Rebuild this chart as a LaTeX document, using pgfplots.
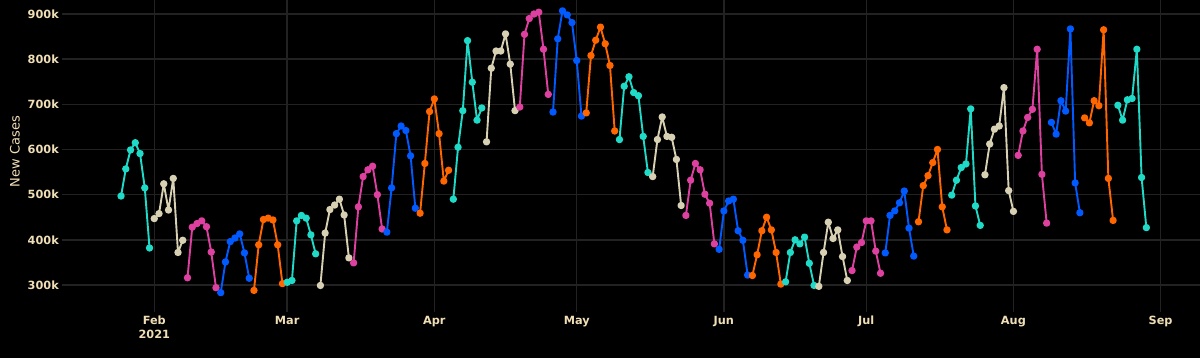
\documentclass[border=0pt]{standalone}
\usepackage{fontspec}
\setmainfont{DejaVu Sans}
\usepackage{pgfplots}
\pgfplotsset{compat=1.18}
\definecolor{cT}{RGB}{32,218,200}
\definecolor{cB}{RGB}{216,208,178}
\definecolor{cM}{RGB}{222,64,160}
\definecolor{cU}{RGB}{0,90,255}
\definecolor{cO}{RGB}{255,102,0}
\definecolor{tickc}{RGB}{240,222,182}
\definecolor{gridc}{RGB}{34,34,34}
\begin{document}
\begin{tikzpicture}
\useasboundingbox (-62pt,-46pt) rectangle (1138pt,312pt);
\fill[black] (-62pt,-46pt) rectangle (1138pt,312pt);
\begin{axis}[
  scale only axis, width=1138pt, height=312pt,
  xmin=-19.44, xmax=220.3, ymin=240.2, ymax=931,
  axis line style={draw=none},
  major tick length=0pt,
  grid=major, major grid style={color=gridc, line width=1.5pt},
  xtick={0,28,59,89,120,150,181,212},
  xticklabels={{Feb\\2021},Mar,Apr,May,Jun,Jul,Aug,Sep},
  ytick={300,400,500,600,700,800,900},
  yticklabels={300k,400k,500k,600k,700k,800k,900k},
  xticklabel style={font=\bfseries\fontsize{11.3}{14}\selectfont, text=tickc, align=center, inner sep=0pt, yshift=-4pt},
  yticklabel style={font=\bfseries\fontsize{11.3}{14}\selectfont, text=tickc, inner sep=0pt, xshift=-3pt},
  ylabel={New Cases},
  ylabel style={at={(axis description cs:-0.0413,0.514)}, anchor=center, font=\fontsize{13}{15}\selectfont, text=tickc},
  every axis plot/.append style={line width=1.9pt, line join=round, mark=*, mark size=2.7pt},
]
\addplot[cT] coordinates {(-7,497)(-6,557)(-5,599)(-4,615)(-3,591)(-2,515)(-1,382)};
\addplot[cB] coordinates {(0,447)(1,458)(2,524)(3,466)(4,536)(5,372)(6,399)};
\addplot[cM] coordinates {(7,316)(8,428)(9,436)(10,442)(11,429)(12,373)(13,294)};
\addplot[cU] coordinates {(14,283)(15,351)(16,396)(17,404)(18,413)(19,371)(20,315)};
\addplot[cO] coordinates {(21,288)(22,389)(23,445)(24,448)(25,444)(26,389)(27,303)};
\addplot[cT] coordinates {(28,306)(29,310)(30,442)(31,454)(32,448)(33,411)(34,369)};
\addplot[cB] coordinates {(35,299)(36,415)(37,467)(38,477)(39,490)(40,455)(41,360)};
\addplot[cM] coordinates {(42,349)(43,473)(44,540)(45,555)(46,563)(47,500)(48,424)};
\addplot[cU] coordinates {(49,417)(50,515)(51,635)(52,652)(53,642)(54,586)(55,470)};
\addplot[cO] coordinates {(56,459)(57,569)(58,684)(59,712)(60,635)(61,530)(62,554)};
\addplot[cT] coordinates {(63,490)(64,605)(65,686)(66,841)(67,749)(68,665)(69,692)};
\addplot[cB] coordinates {(70,617)(71,780)(72,818)(73,818)(74,856)(75,789)(76,686)};
\addplot[cM] coordinates {(77,694)(78,855)(79,890)(80,900)(81,904)(82,822)(83,722)};
\addplot[cU] coordinates {(84,683)(85,845)(86,907)(87,898)(88,881)(89,797)(90,674)};
\addplot[cO] coordinates {(91,681)(92,808)(93,842)(94,871)(95,834)(96,786)(97,641)};
\addplot[cT] coordinates {(98,622)(99,740)(100,761)(101,726)(102,719)(103,629)(104,549)};
\addplot[cB] coordinates {(105,540)(106,622)(107,672)(108,629)(109,627)(110,578)(111,476)};
\addplot[cM] coordinates {(112,454)(113,532)(114,569)(115,555)(116,501)(117,481)(118,391)};
\addplot[cU] coordinates {(119,379)(120,464)(121,486)(122,490)(123,420)(124,399)(125,322)};
\addplot[cO] coordinates {(126,321)(127,367)(128,420)(129,450)(130,422)(131,372)(132,302)};
\addplot[cT] coordinates {(133,307)(134,372)(135,400)(136,391)(137,406)(138,348)(139,299)};
\addplot[cB] coordinates {(140,297)(141,372)(142,439)(143,403)(144,422)(145,363)(146,310)};
\addplot[cM] coordinates {(147,332)(148,384)(149,394)(150,442)(151,442)(152,375)(153,326)};
\addplot[cU] coordinates {(154,371)(155,454)(156,464)(157,482)(158,508)(159,426)(160,364)};
\addplot[cO] coordinates {(161,440)(162,520)(163,542)(164,571)(165,600)(166,473)(167,422)};
\addplot[cT] coordinates {(168,499)(169,532)(170,560)(171,568)(172,690)(173,475)(174,432)};
\addplot[cB] coordinates {(175,544)(176,612)(177,645)(178,652)(179,737)(180,509)(181,463)};
\addplot[cM] coordinates {(182,587)(183,641)(184,671)(185,689)(186,822)(187,545)(188,437)};
\addplot[cU] coordinates {(189,660)(190,634)(191,708)(192,685)(193,867)(194,526)(195,460)};
\addplot[cO] coordinates {(196,670)(197,659)(198,708)(199,697)(200,865)(201,536)(202,443)};
\addplot[cT] coordinates {(203,698)(204,665)(205,710)(206,713)(207,822)(208,538)(209,427)};
\end{axis}
\end{tikzpicture}
\end{document}
